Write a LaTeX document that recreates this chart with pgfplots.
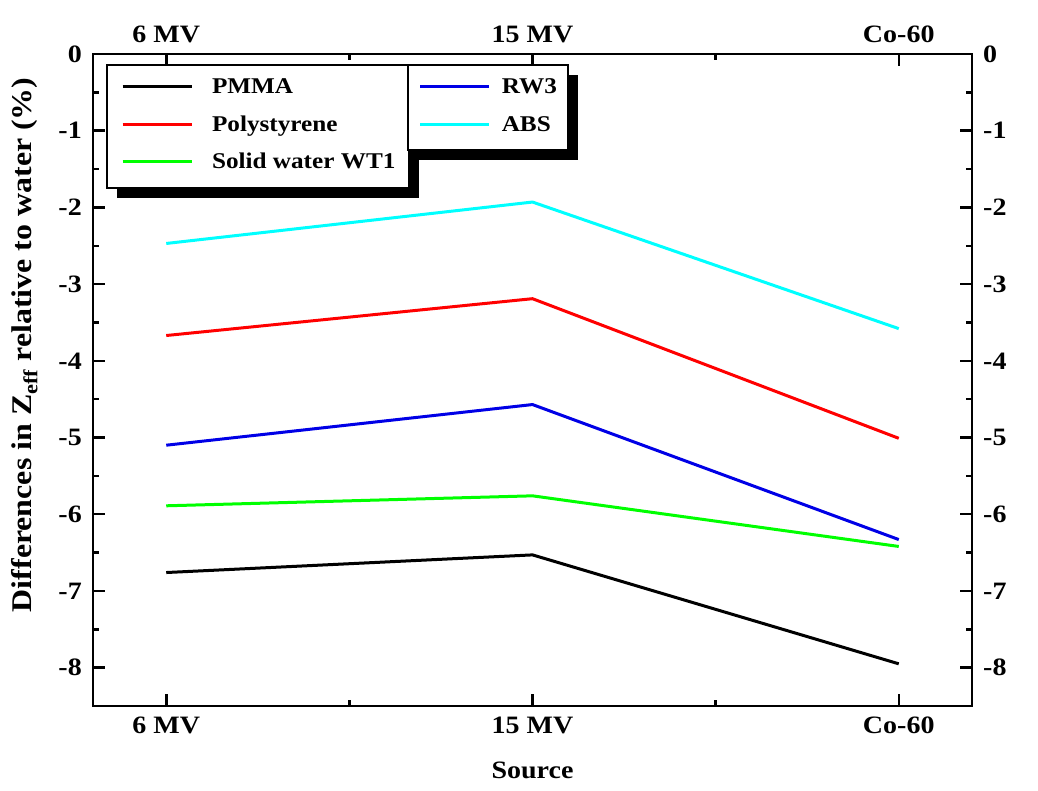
\documentclass[border=0pt]{standalone}
\usepackage{fontspec}
\setmainfont[FakeStretch=1.12]{Liberation Serif}
\usepackage{pgfplots}
\pgfplotsset{compat=1.18}
\usetikzlibrary{shadows}
\definecolor{lgreen}{RGB}{0,255,0}
\definecolor{lcyan}{RGB}{0,255,255}
\definecolor{lblue}{RGB}{0,0,230}
\makeatletter
\tikzset{nopreaction/.code={\let\tikz@preactions\pgfutil@empty}}
\makeatother
\begin{document}
\begin{tikzpicture}
\pgfplotsset{
 common/.style={
  at={(0pt,0pt)}, anchor=south west,
  scale only axis, width=879pt, height=652pt,
  xmin=-0.2, xmax=2.2, ymin=-8.5, ymax=0,
  xtick={0,1,2}, xticklabels={6 MV,15 MV,Co-60},
  minor xtick={0.5,1.5},
  ytick={-8,-7,...,0}, minor ytick={-7.5,-6.5,...,-0.5},
  tick align=inside,
  major tick length=12pt, minor tick length=6pt,
  every tick/.style={black, line width=2.5pt},
  /pgf/number format/assume math mode=true,
  tick label style={font=\fontsize{25}{30}\selectfont\bfseries, inner sep=11pt},
  label style={font=\fontsize{25}{30}\selectfont\bfseries},
  axis line style={line width=2.5pt},
  legend cell align=left,
  legend image code/.code={\draw[nopreaction, ##1, line width=3pt] (0pt,2pt) -- (69pt,2pt);},
  legend style={anchor=north west, draw=black, line width=2pt, fill=white,
    drop shadow={shadow xshift=10pt, shadow yshift=-10pt, fill=black, opacity=1},
    font=\fontsize{22.5}{27}\selectfont\bfseries, inner ysep=14pt,
    row sep=17.5pt,
    nodes={inner sep=0pt, text height=15pt, text depth=5pt}},
 }
}
\begin{axis}[common,
  xlabel={Source},
  xlabel style={at={(axis description cs:0.5,-0.0982)}, anchor=center},
  ylabel={Differences in Z\textsubscript{eff} relative to water (\%)},
  ylabel style={at={(axis description cs:-0.0774,0.554)}, anchor=center, font=\fontsize{28.5}{33}\selectfont\bfseries},
  legend style={at={(axis description cs:0.0148,0.9847)}, inner xsep=14pt, column sep=19pt},
]
\addplot[black, line width=3pt] coordinates {(0,-6.76) (1,-6.53) (2,-7.95)};
\addlegendentry{PMMA}
\addplot[red, line width=3pt] coordinates {(0,-3.67) (1,-3.19) (2,-5.01)};
\addlegendentry{Polystyrene}
\addplot[lgreen, line width=3pt] coordinates {(0,-5.89) (1,-5.76) (2,-6.42)};
\addlegendentry{Solid water WT1}
\end{axis}
\begin{axis}[common,
  xticklabel pos=right, yticklabel pos=right,
  legend style={at={(axis description cs:0.357,0.9847)}, inner xsep=11pt, column sep=11pt},
]
\addplot[lblue, line width=3pt] coordinates {(0,-5.10) (1,-4.57) (2,-6.33)};
\addlegendentry{RW3}
\addplot[lcyan, line width=3pt] coordinates {(0,-2.47) (1,-1.93) (2,-3.58)};
\addlegendentry{ABS}
\end{axis}
\pgfresetboundingbox
\path[use as bounding box] (-93pt,-84pt) rectangle (945pt,706pt);
\end{tikzpicture}
\end{document}
